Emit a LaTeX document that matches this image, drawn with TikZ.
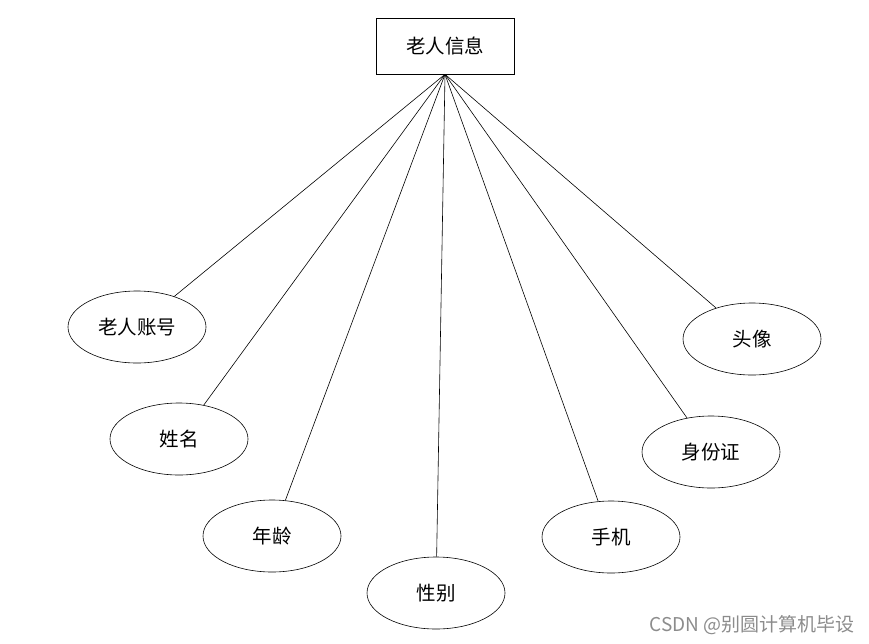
\documentclass[tikz,border=0pt]{standalone}
\usepackage{fontspec}
\newfontfamily\cjk{Noto Sans CJK SC}
\usetikzlibrary{shapes.geometric}
\tikzset{
  entitybox/.style={draw, rectangle, minimum width=138pt, minimum height=56pt, inner sep=0.75pt, font=\cjk\fontsize{19.5}{22}\selectfont},
  attrib/.style={draw, ellipse, minimum width=138pt, minimum height=72pt, inner sep=0.75pt, font=\cjk\fontsize{19.5}{22}\selectfont},
}
\begin{document}
\begin{tikzpicture}[x=1pt,y=1pt,yscale=-1,xscale=1, line width=0.6pt]
		\useasboundingbox (0,0) rectangle (869,643);
		
		%Shape: Rectangle
		\node [entitybox] (info) at (445,46) {老人信息};
		
		%Shape: Ellipse
		\node [attrib] (account) at (137,327) {老人账号};
		\node [attrib] (name) at (179,439) {姓名};
		\node [attrib] (age) at (272,536) {年龄};
		\node [attrib] (sex) at (436,593) {性别};
		\node [attrib] (phone) at (611,537) {手机};
		\node [attrib] (idcard) at (711,452) {身份证};
		\node [attrib] (avatar) at (752,339) {头像};
		
		%Straight Lines
		\foreach \t in {account,name,age,sex,phone,idcard,avatar}
			\draw (info.south) -- (\t);
		
		% Text Node
		\node [anchor=east, inner sep=0pt, text=black!45, font=\cjk\fontsize{19}{21}\selectfont] (mark) at (855,625) {CSDN @别圆计算机毕设};
	\end{tikzpicture}
\end{document}
